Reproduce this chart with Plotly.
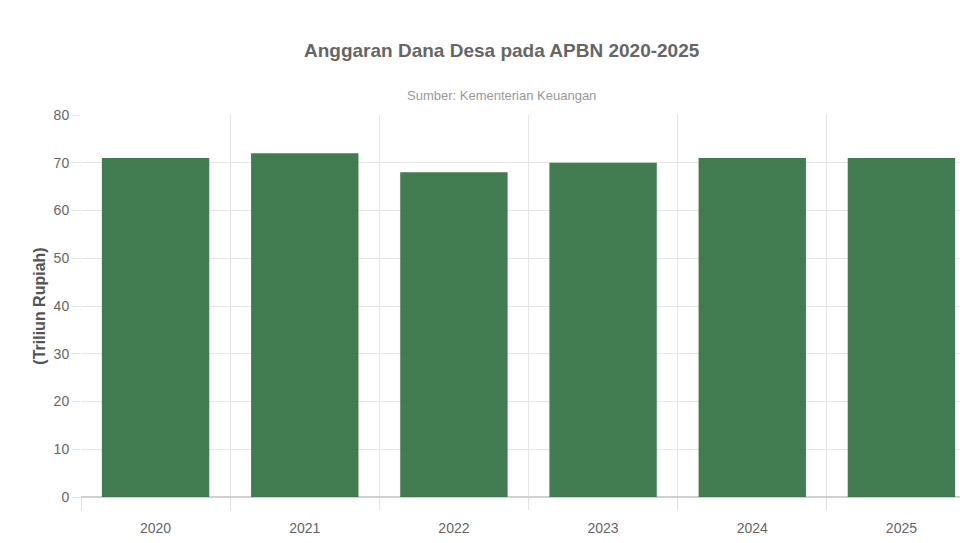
import plotly.graph_objects as go

years = ["2020", "2021", "2022", "2023", "2024", "2025"]
values = [71, 72, 68, 70, 71, 71]
positions = list(range(len(years)))
boundaries = [p - 0.5 for p in positions] + [len(years) - 0.5]

fig = go.Figure()
fig.add_trace(go.Bar(x=positions, y=values, width=0.72,
                     marker=dict(color="rgba(45,110,62,0.9)", line=dict(width=0)),
                     hoverinfo="x+y"))
fig.add_trace(go.Scatter(x=boundaries, y=[0]*len(boundaries), xaxis="x2",
                         mode="markers", marker=dict(opacity=0), showlegend=False, hoverinfo="skip"))

fig.update_layout(
    width=968, height=543,
    margin=dict(l=73, r=0, t=107, b=54),
    plot_bgcolor="white", paper_bgcolor="white",
    showlegend=False,
    font=dict(family="Arial, Liberation Sans, sans-serif", color="#666"),
    xaxis=dict(range=[-0.5, 5.5], tickvals=positions, ticktext=years, showgrid=False,
               tickfont=dict(size=14, color="#666"), ticks="outside", ticklen=18,
               tickcolor="rgba(0,0,0,0)", zeroline=False),
    xaxis2=dict(range=[-0.5, 5.5], overlaying="x", tickvals=boundaries, showticklabels=False,
                showgrid=True, gridcolor="#e6e6e6", ticks="outside", ticklen=12,
                tickcolor="#e0e0e0", side="bottom", zeroline=False),
    yaxis=dict(range=[0, 80], dtick=10, gridcolor="#e6e6e6", zeroline=True,
               zerolinecolor="#d0d0d0", ticks="outside", ticklen=8, tickcolor="#e6e6e6",
               tickfont=dict(size=14, color="#666"),
               title=dict(text="<b>(Triliun Rupiah)</b>", font=dict(size=16, color="#555"), standoff=4)),
    annotations=[
        dict(text="<b>Anggaran Dana Desa pada APBN 2020-2025</b>", xref="paper", yref="paper",
             x=0.47, y=1, yshift=77, showarrow=False, font=dict(size=19, color="#666")),
        dict(text="Sumber: Kementerian Keuangan", xref="paper", yref="paper",
             x=0.47, y=1, yshift=29, showarrow=False, font=dict(size=13, color="#999")),
    ],
)
fig.write_html("out.html")
